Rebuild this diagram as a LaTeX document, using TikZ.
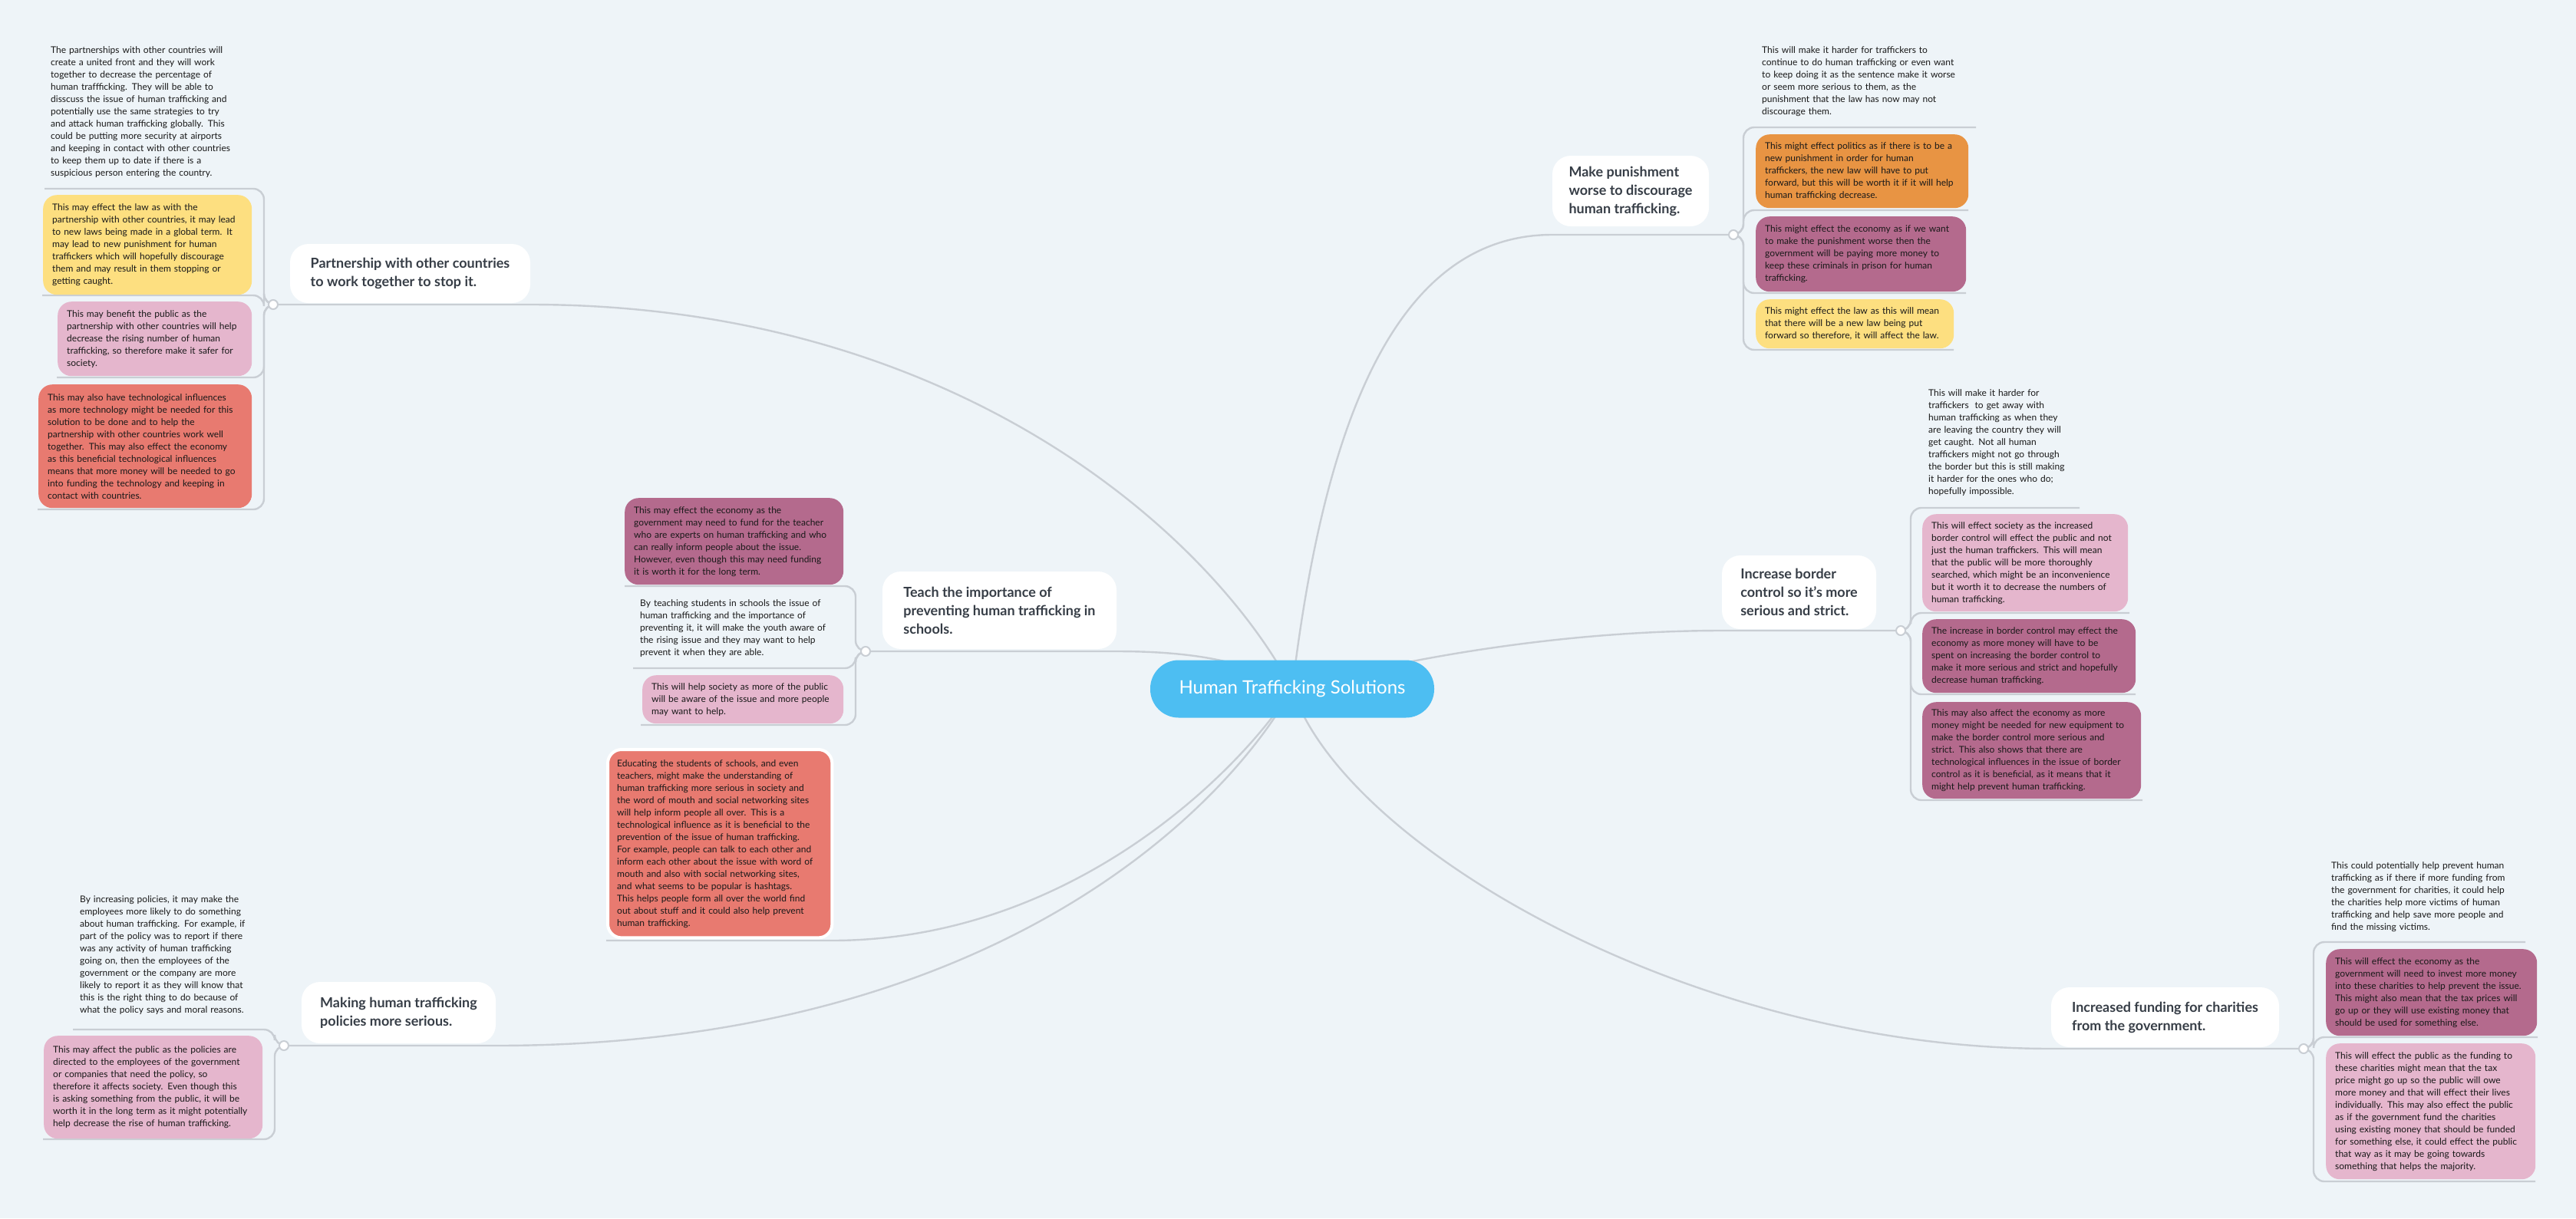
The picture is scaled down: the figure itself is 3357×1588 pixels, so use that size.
\documentclass[tikz,border=0pt]{standalone}
\usepackage{fontspec}
\setmainfont{Lato}
\definecolor{bg}{HTML}{EEF4F8}
\definecolor{ln}{HTML}{C9CED4}
\definecolor{cyel}{HTML}{FDDF80}
\definecolor{cpink}{HTML}{E5B6CD}
\definecolor{cpur}{HTML}{B46A8D}
\definecolor{cred}{HTML}{E87A70}
\definecolor{corg}{HTML}{E89443}
\definecolor{cblue}{HTML}{4DBEF2}
\definecolor{hdtxt}{HTML}{363D46}
\tikzset{
 cb/.style={rounded corners=18pt,inner xsep=12pt,inner ysep=6pt,align=left,anchor=north west,font=\fontsize{12}{16}\selectfont,text=black!90},
 tx/.style={inner sep=0pt,align=left,anchor=north west,font=\fontsize{12}{16}\selectfont,text=black!90},
 hd/.style={fill=white,rounded corners=24pt,align=left,text=hdtxt,font=\fontsize{18}{24}\bfseries\selectfont,inner xsep=14pt},
 ln/.style={draw=ln,line width=2.4pt},
 br/.style={draw=ln,line width=2.4pt,rounded corners=14pt},
 jn/.style={circle,draw=ln,line width=2pt,fill=white,minimum size=12pt,inner sep=0pt}
}
\newcommand\cbx[7]{\pgfmathsetmacro\tw{#4-24}\node[cb,fill=#6,minimum width=#4pt,minimum height=#5pt,text width=\tw pt] (#1) at (#2,#3) {#7};}
\begin{document}
\begin{tikzpicture}[x=1pt,y=-1pt]
\fill[bg] (0,0) rectangle (3357,1588);
\useasboundingbox (0,0) rectangle (3357,1588);
% junctions coords
\coordinate (J1) at (356,397);
\coordinate (J2) at (1128,849);
\coordinate (J3) at (370,1363);
\coordinate (J4) at (2259,306);
\coordinate (J5) at (2477,822);
\coordinate (J6) at (3002,1367);
\coordinate (C) at (1684,898);
\coordinate (e1) at (691,397);
\coordinate (e2) at (1455,849);
\coordinate (e3) at (1084,1226);
\coordinate (e3l) at (790,1226);
\coordinate (e4) at (646,1363);
\coordinate (e5) at (2023,306);
\coordinate (e6) at (2244,822);
\coordinate (e7) at (2673,1367);
% main connectors
\draw[ln] (J1) -- (e1) .. controls (1250,397) and (1580,700) .. (C);
\draw[ln] (J2) -- (e2) .. controls (1580,849) and (1640,870) .. (C);
\draw[ln] (e3l) -- (e3) .. controls (1400,1226) and (1620,1000) .. (C);
\draw[ln] (J3) -- (e4) .. controls (1300,1363) and (1600,1050) .. (C);
\draw[ln] (C) .. controls (1720,600) and (1800,306) .. (e5) -- (J4);
\draw[ln] (C) .. controls (1900,840) and (2100,822) .. (e6) -- (J5);
\draw[ln] (C) .. controls (1750,1100) and (2200,1367) .. (e7) -- (J6);
% brackets left
\draw[br] (58,246) -- (344,246) -- (344,397) -- (J1);
\draw[br] (55,385) -- (344,385) -- (344,397) -- (J1);
\draw[br] (74,492) -- (344,492) -- (344,397) -- (J1);
\draw[br] (49,664) -- (344,664) -- (344,397) -- (J1);
\draw[br] (814,764) -- (1115,764) -- (1115,849) -- (J2);
\draw[br] (825,871) -- (1115,871) -- (1115,849) -- (J2);
\draw[br] (835,945) -- (1115,945) -- (1115,849) -- (J2);
\draw[br] (95,1342) -- (358,1342) -- (358,1363) -- (J3);
\draw[br] (56,1485) -- (358,1485) -- (358,1363) -- (J3);
% brackets right
\draw[br] (J4) -- (2272,306) -- (2272,166) -- (2575,166);
\draw[br] (J4) -- (2272,306) -- (2272,274) -- (2565,274);
\draw[br] (J4) -- (2272,306) -- (2272,382) -- (2562,382);
\draw[br] (J4) -- (2272,306) -- (2272,456) -- (2546,456);
\draw[br] (J5) -- (2490,822) -- (2490,662) -- (2710,662);
\draw[br] (J5) -- (2490,822) -- (2490,799) -- (2775,799);
\draw[br] (J5) -- (2490,822) -- (2490,905) -- (2783,905);
\draw[br] (J5) -- (2490,822) -- (2490,1043) -- (2792,1043);
\draw[br] (J6) -- (3015,1367) -- (3015,1228) -- (3291,1228);
\draw[br] (J6) -- (3015,1367) -- (3015,1352) -- (3307,1352);
\draw[br] (J6) -- (3015,1367) -- (3015,1540) -- (3304,1540);
% junction circles
\foreach \j in {J1,J2,J3,J4,J5,J6} \node[jn] at (\j) {};
% central
\node[fill=cblue,rounded corners=37pt,minimum width=370pt,minimum height=75pt,text=white,font=\fontsize{24}{28}\selectfont] (center) at (C) {Human Trafficking Solutions};
% headings
\node[hd,minimum width=313pt,minimum height=77pt] (h1) at (534.5,356.5) {Partnership with other countries\\to work together to stop it.};
\node[hd,minimum width=305pt,minimum height=101pt] (h2) at (1302.5,795.5) {Teach the importance of\\preventing human trafficking in\\schools.};
\node[hd,minimum width=253pt,minimum height=80pt] (h3) at (519.5,1320) {Making human trafficking\\policies more serious.};
\node[hd,minimum width=204pt,minimum height=92pt] (h4) at (2125,249) {Make punishment\\worse to discourage\\human trafficking.};
\node[hd,minimum width=201pt,minimum height=96pt] (h5) at (2344.5,772) {Increase border\\control so it's more\\serious and strict.};
\node[hd,minimum width=297pt,minimum height=78pt] (h6) at (2821.5,1326) {Increased funding for charities\\from the government.};
% partnership children
\node[tx,text width=260pt] (t1) at (66,60) {The partnerships with other countries will\\create a united front and they will work\\together to decrease the percentage of\\human traffficking. They will be able to\\disscuss the issue of human trafficking and\\potentially use the same strategies to try\\and attack human trafficking globally. This\\could be putting more security at airports\\and keeping in contact with other countries\\to keep them up to date if there is a\\suspicious person entering the country.};
\cbx{y1}{56}{254}{272}{130}{cyel}{This may effect the law as with the\\partnership with other countries, it may lead\\to new laws being made in a global term. It\\may lead to new punishment for human\\traffickers which will hopefully discourage\\them and may result in them stopping or\\getting caught.}
\cbx{p1}{75}{393}{253}{97}{cpink}{This may benefit the public as the\\partnership with other countries will help\\decrease the rising number of human\\trafficking, so therefore make it safer for\\society.}
\cbx{r1}{50}{501}{278}{161}{cred}{This may also have technological influences\\as more technology might be needed for this\\solution to be done and to help the\\partnership with other countries work well\\together. This may also effect the economy\\as this beneficial technological influences\\means that more money will be needed to go\\into funding the technology and keeping in\\contact with countries.}
% teach children
\cbx{tp}{814}{649}{285}{113}{cpur}{This may effect the economy as the\\government may need to fund for the teacher\\who are experts on human trafficking and who\\can really inform people about the issue.\\However, even though this may need funding\\it is worth it for the long term.}
\node[tx,text width=265pt] (tt) at (834,781) {By teaching students in schools the issue of\\human trafficking and the importance of\\preventing it, it will make the youth aware of\\the rising issue and they may want to help\\prevent it when they are able.};
\cbx{tk}{837}{880}{262}{63}{cpink}{This will help society as more of the public\\will be aware of the issue and more people\\may want to help.}
\cbx{er}{792}{977}{292}{245}{cred}{Educating the students of schools, and even\\teachers, might make the understanding of\\human trafficking more serious in society and\\the word of mouth and social networking sites\\will help inform people all over. This is a\\technological influence as it is beneficial to the\\prevention of the issue of human trafficking.\\For example, people can talk to each other and\\inform each other about the issue with word of\\mouth and also with social networking sites,\\and what seems to be popular is hashtags.\\This helps people form all over the world find\\out about stuff and it could also help prevent\\human trafficking.}
\draw[white,line width=4pt,rounded corners=18pt] (er.north west) rectangle (er.south east);
% making children
\node[tx,text width=240pt] (mt) at (104,1167) {By increasing policies, it may make the\\employees more likely to do something\\about human trafficking. For example, if\\part of the policy was to report if there\\was any activity of human trafficking\\going on, then the employees of the\\government or the company are more\\likely to report it as they will know that\\this is the right thing to do because of\\what the policy says and moral reasons.};
\cbx{mp}{57}{1350}{285}{134}{cpink}{This may affect the public as the policies are\\directed to the employees of the government\\or companies that need the policy, so\\therefore it affects society. Even though this\\is asking something from the public, it will be\\worth it in the long term as it might potentially\\help decrease the rise of human trafficking.}
% punishment children
\node[tx,text width=270pt] (pt) at (2296,60) {This will make it harder for traffickers to\\continue to do human trafficking or even want\\to keep doing it as the sentence make it worse\\or seem more serious to them, as the\\punishment that the law has now may not\\discourage them.};
\cbx{po}{2288}{175}{277}{96}{corg}{This might effect politics as if there is to be a\\new punishment in order for human\\traffickers, the new law will have to put\\forward, but this will be worth it if it will help\\human trafficking decrease.}
\cbx{pp}{2288}{282}{274}{98}{cpur}{This might effect the economy as if we want\\to make the punishment worse then the\\government will be paying more money to\\keep these criminals in prison for human\\trafficking.}
\cbx{py}{2288}{390}{258}{64}{cyel}{This might effect the law as this will mean\\that there will be a new law being put\\forward so therefore, it will affect the law.}
% border children
\node[tx,text width=195pt] (bt) at (2513,507) {This will make it harder for\\traffickers\ \ to get away with\\human trafficking as when they\\are leaving the country they will\\get caught. Not all human\\traffickers might not go through\\the border but this is still making\\it harder for the ones who do;\\hopefully impossible.};
\cbx{bk}{2505}{670}{268}{127}{cpink}{This will effect society as the increased\\border control will effect the public and not\\just the human traffickers. This will mean\\that the public will be more thoroughly\\searched, which might be an inconvenience\\but it worth it to decrease the numbers of\\human trafficking.}
\cbx{bp}{2505}{807}{278}{96}{cpur}{The increase in border control may effect the\\economy as more money will have to be\\spent on increasing the border control to\\make it more serious and strict and hopefully\\decrease human trafficking.}
\cbx{bq}{2505}{915}{285}{126}{cpur}{This may also affect the economy as more\\money might be needed for new equipment to\\make the border control more serious and\\strict. This also shows that there are\\technological influences in the issue of border\\control as it is beneficial, as it means that it\\might help prevent human trafficking.}
% charities children
\node[tx,text width=255pt] (ct) at (3038,1123) {This could potentially help prevent human\\trafficking as if there if more funding from\\the government for charities, it could help\\the charities help more victims of human\\trafficking and help save more people and\\find the missing victims.};
\cbx{cp}{3031}{1237}{275}{113}{cpur}{This will effect the economy as the\\government will need to invest more money\\into these charities to help prevent the issue.\\This might also mean that the tax prices will\\go up or they will use existing money that\\should be used for something else.}
\cbx{ck}{3031}{1360}{273}{177}{cpink}{This will effect the public as the funding to\\these charities might mean that the tax\\price might go up so the public will owe\\more money and that will effect their lives\\individually. This may also effect the public\\as if the government fund the charities\\using existing money that should be funded\\for something else, it could effect the public\\that way as it may be going towards\\something that helps the majority.}
\end{tikzpicture}
\end{document}
